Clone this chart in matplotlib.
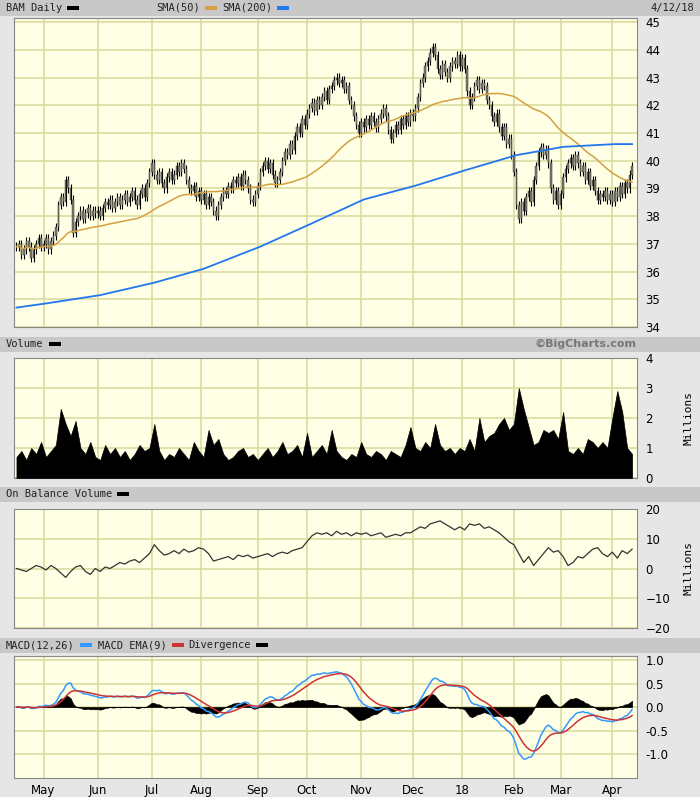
import matplotlib
matplotlib.use("Agg")
import matplotlib.pyplot as plt
import numpy as np
import pandas as pd
from matplotlib.patches import Rectangle

holidays = ["2017-04-14","2017-05-29","2017-07-04","2017-09-04","2017-11-23",
            "2017-12-25","2018-01-01","2018-01-15","2018-02-19","2018-03-30"]
dates = pd.bdate_range("2017-04-13", "2018-04-12").drop(pd.to_datetime(holidays))

closes = [
 # Apr
 36.9,37.0,36.6,36.8,37.1,36.9,36.5,36.8,37.0,37.2,36.9,
 # May
 37.0,37.2,36.8,37.1,37.3,37.6,38.4,38.7,38.5,39.3,39.0,38.6,37.4,37.8,38.0,38.2,37.9,38.1,38.3,38.0,38.2,38.1,
 # Jun
 38.2,38.0,38.3,38.5,38.4,38.6,38.3,38.5,38.7,38.4,38.6,38.8,38.5,38.7,38.9,38.6,38.4,38.8,39.0,38.7,39.2,39.6,
 # Jul
 39.9,39.5,39.3,39.6,39.2,39.0,39.4,39.6,39.3,39.5,39.8,39.6,39.9,39.7,39.3,39.0,38.9,39.1,38.7,38.9,
 # Aug
 38.6,38.8,38.4,38.7,38.5,38.2,38.0,38.4,38.7,38.9,38.8,39.1,39.0,39.3,39.2,39.4,39.1,39.5,39.3,39.0,38.6,38.5,38.8,
 # Sep
 39.1,39.6,39.8,40.0,39.7,39.9,39.5,39.2,39.3,39.6,40.0,40.3,40.2,40.6,40.4,40.9,41.2,41.0,41.5,41.3,
 # Oct
 41.7,41.9,42.1,41.8,42.2,42.0,42.3,42.5,42.2,42.6,42.7,42.9,43.0,42.8,42.9,42.6,42.7,42.2,42.0,41.6,41.3,41.0,
 # Nov
 41.4,41.2,41.5,41.3,41.6,41.4,41.2,41.5,41.7,41.9,41.6,41.1,40.8,41.0,41.3,41.1,41.5,41.3,41.6,41.4,41.7,
 # Dec
 41.6,41.9,42.3,42.8,43.0,43.4,43.6,43.9,44.1,43.8,43.3,43.1,43.5,43.2,43.0,43.4,43.6,43.5,43.8,43.4,
 # Jan
 43.7,43.3,42.5,42.0,42.3,42.7,42.9,42.6,42.8,42.7,42.2,42.0,41.6,41.4,41.7,41.2,40.9,41.2,40.6,40.8,40.2,
 # Feb
 39.6,38.4,37.9,38.5,38.2,38.7,38.9,38.5,39.3,39.8,40.3,40.5,40.2,40.4,39.9,39.0,38.6,38.9,38.4,
 # Mar
 38.8,39.4,39.7,39.9,40.1,39.8,40.2,39.9,39.6,39.8,39.3,39.6,39.1,39.3,38.9,38.6,38.8,38.7,38.9,38.6,38.8,
 # Apr
 38.5,38.9,38.7,39.1,38.8,39.2,39.0,39.5,39.8,
]
wick = 0.15

sma200_idx = [0, 12, 34, 56, 76, 99, 119, 141, 162, 182, 203, 222, 243, 250]
sma200_val = [34.7, 34.85, 35.15, 35.6, 36.1, 36.9, 37.7, 38.6, 39.1, 39.65, 40.2, 40.5, 40.6, 40.6]

volume = [0.7,0.9,0.6,1.0,0.8,1.2,0.7,0.9,1.1,2.3,
          1.8,1.4,1.9,1.0,0.8,1.2,0.7,0.6,1.1,0.8,
          1.0,0.7,0.9,0.6,0.8,1.1,0.9,1.0,1.8,0.9,
          0.6,0.8,0.7,1.0,0.8,0.6,1.2,0.9,0.7,1.6,
          1.1,1.3,0.8,0.6,0.7,0.9,1.0,0.7,0.8,0.6,
          0.8,1.0,0.7,0.9,1.2,0.8,0.9,1.1,0.7,1.5,
          0.7,0.9,1.1,0.8,1.6,0.9,0.7,0.6,0.8,0.7,
          1.2,0.8,0.7,0.9,0.8,0.6,0.9,0.8,0.7,1.1,
          1.7,1.0,0.9,1.2,1.0,1.8,1.1,0.9,1.0,0.8,
          1.0,0.9,1.3,0.9,2.0,1.2,1.4,1.5,1.8,2.0,
          1.6,1.8,3.0,2.3,1.7,1.1,1.2,1.6,1.5,1.6,
          1.3,2.2,0.9,0.8,1.0,0.8,1.3,1.2,1.0,1.2,
          1.0,2.0,2.9,2.2,1.0,0.8]
obv = [0,-0.5,-1,0,1,0.5,-0.5,1,0,-1.5,
       -3,-1,0.5,1,-1,-2,0,-1,0.5,0,
       1,2,1.5,2.5,3,2,3.5,5,8,6,
       4.5,5,6,5,6.5,5.5,6,7,6.5,5,
       2.5,3,3.5,4,3,4.5,4,4.5,3.5,4,
       4.5,5,4,5,5.5,5,6,6.5,7,9,
       11,12,11.5,12,11,12.5,11.5,12,11,12,
       11.5,12,11,11.5,12,10.5,11,11.5,11,12,
       12,13,14,13.5,15,15.5,16,15,14,13,
       14,13,15,14.5,15,13.5,14,13,12,10.5,
       9,8,5,2,4,1,3,5,7,5.5,
       6,4,1,2,4,3.5,5,6.5,7,5,
       4,5.5,3.5,6,5,6.5]

n = min(len(dates), len(closes))
dates = dates[:n]
c = pd.Series(closes[:n])
o = c.shift(1).fillna(c.iloc[0])
hi = np.maximum(o, c) + wick
lo = np.minimum(o, c) - wick
idx = np.arange(n)
sma50 = c.rolling(50, min_periods=1).mean()
macd = c.ewm(span=12, adjust=False).mean() - c.ewm(span=26, adjust=False).mean()
sig = macd.ewm(span=9, adjust=False).mean()
div = macd - sig
vidx = np.arange(0, 2 * len(volume), 2)

W, H = 700, 797
fig = plt.figure(figsize=(7, 7.97), dpi=100)
fig.patch.set_facecolor("#e6e6e6")
mono = "DejaVu Sans Mono"
renderer = fig.canvas.get_renderer()

def fy(y):
    return 1 - y / H

def header(y0, y1):
    fig.patches.append(Rectangle((0, fy(y1)), 1, (y1 - y0) / H, transform=fig.transFigure,
                                 facecolor="#c8c8c8", edgecolor="none", zorder=0))

def legend_item(x, y, s, color):
    t = fig.text(x / W, fy(y), s, fontsize=7.5, family=mono, va="center", ha="left", color="#222222")
    bb = t.get_window_extent(renderer=renderer)
    x1 = bb.x1 + 5
    fig.patches.append(Rectangle((x1 / W, fy(y + 2)), 12 / W, 4 / H, transform=fig.transFigure,
                                 facecolor=color, edgecolor="none"))

xl = 14 / W
xw = 623 / W
def mkax(y0, y1):
    ax = fig.add_axes([xl, fy(y1), xw, (y1 - y0) / H])
    ax.set_facecolor("#ffffe6")
    ax.grid(True, color="#dcdca0", lw=1.2)
    ax.set_axisbelow(True)
    ax.yaxis.tick_right()
    ax.tick_params(axis="y", length=0, labelsize=8.5, pad=6)
    ax.tick_params(axis="x", length=0)
    for s in ax.spines.values():
        s.set_color("#888888")
    ax.set_xlim(-1, n + 1)
    return ax

month_starts = [i for i in range(1, n) if dates[i].month != dates[i - 1].month]
month_labels = ["18" if dates[i].month == 1 else dates[i].strftime("%b") for i in month_starts]

header(0, 16)
legend_item(6, 8, "BAM Daily", "black")
legend_item(156, 8, "SMA(50)", "#d4a040")
legend_item(222, 8, "SMA(200)", "#2277ee")
fig.text(694 / W, fy(8), "4/12/18", fontsize=7.5, family=mono, va="center", ha="right", color="#222222")
header(337, 352)
legend_item(6, 344, "Volume", "black")
fig.text(637 / W, fy(344), "©BigCharts.com", fontsize=8, weight="bold", color="#777777",
         ha="right", va="center")
header(487, 502)
legend_item(6, 494, "On Balance Volume", "black")
header(638, 653)
legend_item(6, 645, "MACD(12,26)", "#3399ff")
legend_item(98, 645, "MACD EMA(9)", "#cc3333")
legend_item(188, 645, "Divergence", "black")

# price
ax1 = mkax(18, 327)
ax1.set_ylim(34, 45.15)
ax1.set_yticks(range(34, 46))
ax1.vlines(idx, lo, hi, color="black", lw=0.8, zorder=3)
bot = np.minimum(o, c)
ht = np.abs(c - o)
ax1.bar(idx, ht, bottom=bot, width=0.6, color="#7a7a6a", edgecolor="#333333", lw=0.3, zorder=4)
ax1.plot(idx, sma50, color="#d4a040", lw=1.1, zorder=5)
ax1.plot(sma200_idx, sma200_val, color="#2277ee", lw=1.3, zorder=5)
ax1.set_xticks(month_starts); ax1.set_xticklabels([])

# volume
ax2 = mkax(358, 478)
ax2.set_ylim(0, 4); ax2.set_yticks([0, 1, 2, 3, 4])
ax2.fill_between(vidx, volume, 0, color="black", lw=0.5, zorder=3)
ax2.set_xticks(month_starts); ax2.set_xticklabels([])
fig.text(688 / W, fy(418), "Millions", rotation=90, fontsize=8, family=mono, va="center", ha="center")

# obv
ax3 = mkax(509, 628)
ax3.set_ylim(-20, 20); ax3.set_yticks([-20, -10, 0, 10, 20])
ax3.plot(vidx, obv, color="#333333", lw=0.9, zorder=3)
ax3.set_xticks(month_starts); ax3.set_xticklabels([])
fig.text(688 / W, fy(568), "Millions", rotation=90, fontsize=8, family=mono, va="center", ha="center")

# macd
ax4 = mkax(656, 778)
ax4.set_ylim(-1.51, 1.085)
ax4.set_yticks([-1.0, -0.5, 0.0, 0.5, 1.0])
ax4.set_yticklabels(["-1.0", "-0.5", "0.0", "0.5", "1.0"])
ax4.fill_between(idx, div, 0, color="black", lw=0.5, zorder=3)
ax4.plot(idx, macd, color="#3399ff", lw=1.1, zorder=4)
ax4.plot(idx, sig, color="#cc3333", lw=1.1, zorder=4)
ax4.set_xticks(month_starts)
ax4.set_xticklabels(month_labels, fontsize=8.5)
ax4.tick_params(axis="x", pad=4)

fig.savefig("out.png", dpi=100, facecolor=fig.get_facecolor())
